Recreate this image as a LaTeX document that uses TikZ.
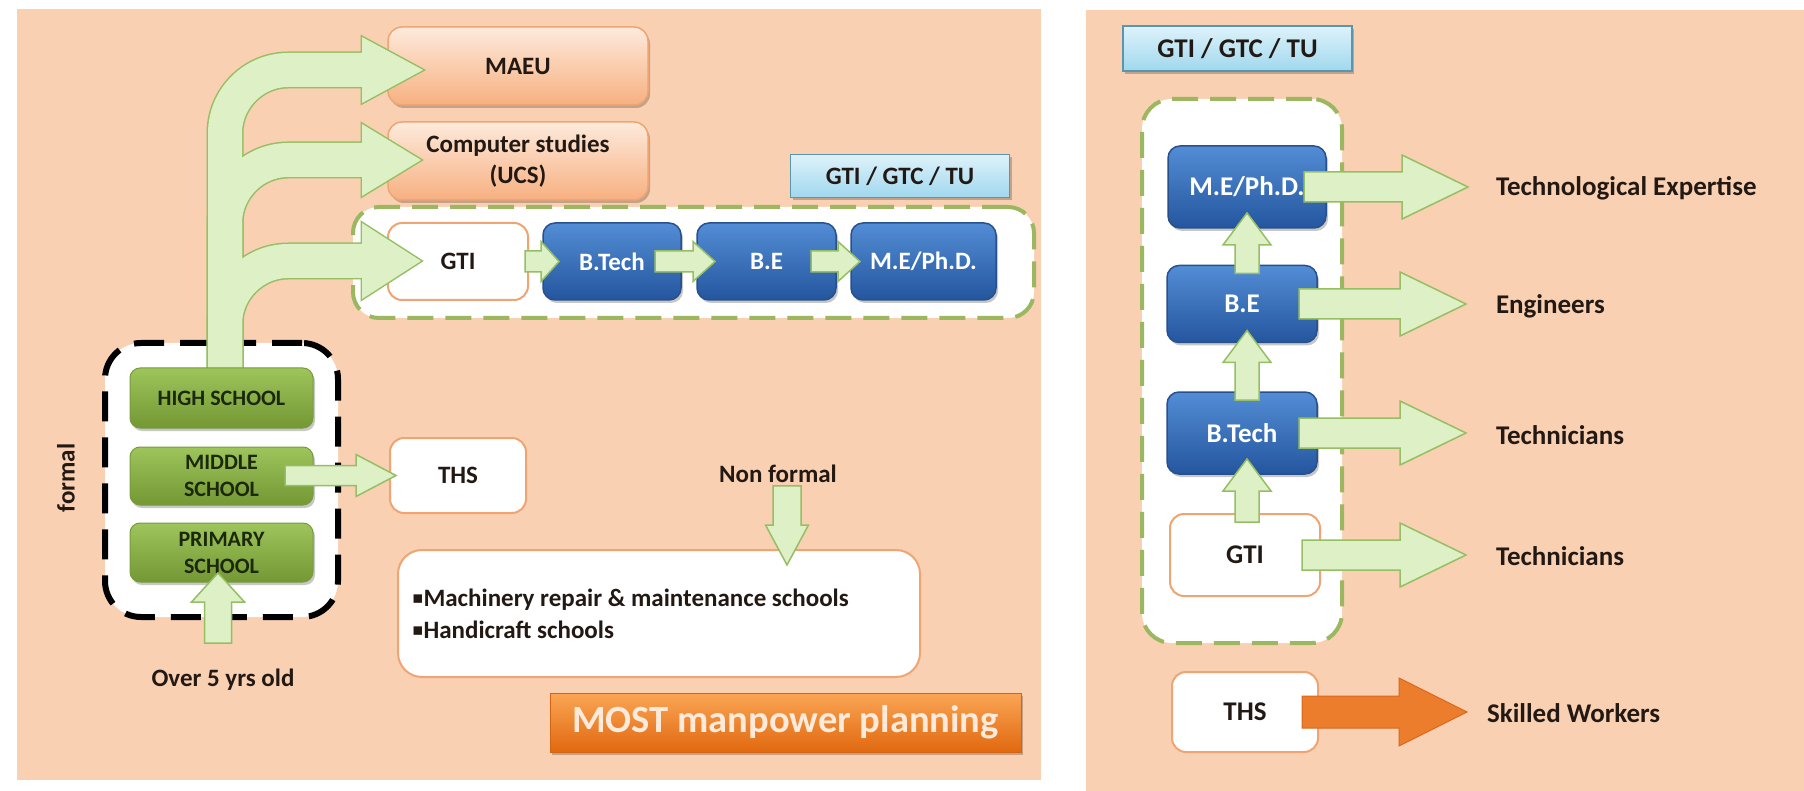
\documentclass[tikz,border=0pt]{standalone}
\usepackage{fontspec}
\setmainfont{Carlito}
\newfontfamily\dejavu{DejaVu Sans}
\usetikzlibrary{calc,shadows}
\definecolor{peach}{RGB}{250,208,178}
\definecolor{ink}{RGB}{35,25,20}
\definecolor{ortop}{RGB}{253,234,220}
\definecolor{orbot}{RGB}{247,176,128}
\definecolor{orline}{RGB}{238,165,115}
\definecolor{bluetop}{RGB}{83,141,213}
\definecolor{bluebot}{RGB}{36,86,158}
\definecolor{blueline}{RGB}{40,80,140}
\definecolor{greentop}{RGB}{158,196,92}
\definecolor{greenbot}{RGB}{115,152,52}
\definecolor{greenline}{RGB}{120,155,60}
\definecolor{greentext}{RGB}{28,40,10}
\definecolor{cyantop}{RGB}{222,242,250}
\definecolor{cyanbot}{RGB}{160,216,238}
\definecolor{cyanline}{RGB}{90,150,175}
\definecolor{gdashc}{RGB}{155,183,95}
\definecolor{gline}{RGB}{150,190,100}
\definecolor{gfill}{RGB}{222,240,198}
\definecolor{mosttop}{RGB}{250,165,85}
\definecolor{mostbot}{RGB}{225,105,15}
\definecolor{mostline}{RGB}{210,100,20}
\definecolor{mosttext}{RGB}{253,234,218}
\definecolor{ofill}{RGB}{236,125,45}
\definecolor{oline}{RGB}{215,105,30}

\newcommand\rarr[6]{\path[#1] let \p1=#2, \p2=#3 in ({\x1},{\y2+#4}) -- ({\x2-#6},{\y2+#4}) -- ({\x2-#6},{\y2+#5}) -- (\x2,\y2) -- ({\x2-#6},{\y2-#5}) -- ({\x2-#6},{\y2-#4}) -- ({\x1},{\y2-#4}) -- cycle;}
\newcommand\uarr[6]{\path[#1] let \p1=#2, \p2=#3 in ({\x2-#4},\y1) -- ({\x2-#4},{\y2-#6}) -- ({\x2-#5},{\y2-#6}) -- (\x2,\y2) -- ({\x2+#5},{\y2-#6}) -- ({\x2+#4},{\y2-#6}) -- ({\x2+#4},\y1) -- cycle;}
\newcommand\darr[6]{\path[#1] let \p1=#2, \p2=#3 in ({\x2-#4},\y1) -- ({\x2-#4},{\y2+#6}) -- ({\x2-#5},{\y2+#6}) -- (\x2,\y2) -- ({\x2+#5},{\y2+#6}) -- ({\x2+#4},{\y2+#6}) -- ({\x2+#4},\y1) -- cycle;}
\newcommand\blt{{\dejavu\fontsize{17}{32}\selectfont\raisebox{3pt}{▪}}}

\tikzset{
  shad/.style={drop shadow={shadow xshift=2pt, shadow yshift=-3pt, opacity=0.22, fill=black}},
  txt/.style={font=\fontsize{25}{31}\selectfont\bfseries, text=ink, align=center},
  rfont/.style={font=\fontsize{27}{32}\selectfont\bfseries},
  rlbl/.style={font=\fontsize{27}{32}\selectfont\bfseries, text=ink, anchor=west},
  orbox/.style={txt, rectangle, rounded corners=14, draw=orline, line width=1.5, top color=ortop, bottom color=orbot, shad},
  bluebox/.style={txt, rectangle, rounded corners=12, draw=blueline, line width=1.5, top color=bluetop, bottom color=bluebot, text=white, shad},
  greenbox/.style={rectangle, rounded corners=10, draw=greenline, line width=1, top color=greentop, bottom color=greenbot, font=\fontsize{22}{27}\selectfont\bfseries, text=greentext, align=center, shad},
  whitebox/.style={txt, rectangle, rounded corners=14, draw=orline, line width=2, fill=white},
  cyanbox/.style={txt, rectangle, draw=cyanline, line width=1.5, top color=cyantop, bottom color=cyanbot, shad},
  gdash/.style={rectangle, draw=gdashc, line width=4, dash pattern=on 26pt off 12pt, fill=white, rounded corners=26},
  kdash/.style={rectangle, draw=black, line width=6, dash pattern=on 30pt off 16pt, fill=white, rounded corners=36},
  garrow/.style={draw=gline, line width=1.5, fill=gfill},
  oarrow/.style={draw=oline, line width=1, fill=ofill},
  mostbox/.style={rectangle, draw=mostline, line width=1, top color=mosttop, bottom color=mostbot, text=mosttext, font=\fontsize{38.5}{44}\selectfont\bfseries, shad}
}

\begin{document}
\begin{tikzpicture}[x=1pt,y=-1pt, every node/.style={inner sep=0pt, outer sep=0pt}]
\useasboundingbox (0,0) rectangle (1804,791);
\fill[white] (0,0) rectangle (1804,791);
\fill[peach] (17,9) rectangle (1041,780);
\fill[peach] (1086,10) rectangle (1804,791);

% ---------------- left panel ----------------
\node[orbox, minimum width=260, minimum height=78] (maeu) at (518,66) {MAEU};
\node[orbox, minimum width=260, minimum height=78] (cs) at (518,161) {Computer studies\\(UCS)};
\node[cyanbox, minimum width=219, minimum height=43] (gtcl) at (900,176) {GTI / GTC / TU};
\node[gdash, minimum width=681, minimum height=111] (gcl) at (693.5,262.5) {};
\node[whitebox, minimum width=140, minimum height=77] (gtil) at (458,261.5) {GTI};
\node[bluebox, minimum width=138, minimum height=77] (btechl) at (612,261.5) {B.Tech};
\node[bluebox, minimum width=139, minimum height=77] (bel) at (766.5,261.5) {B.E};
\node[bluebox, minimum width=145, minimum height=77] (mel) at (923.5,261.5) {M.E/Ph.D.};
\rarr{garrow}{($(gtil.east)+(-3,0)$)}{($(btechl.west)+(16,0)$)}{10.5pt}{20pt}{18pt}
\rarr{garrow}{($(btechl.east)+(-26,0)$)}{($(bel.west)+(18,0)$)}{10.5pt}{20pt}{22pt}
\rarr{garrow}{($(bel.east)+(-25,0)$)}{($(mel.west)+(9,0)$)}{10.5pt}{20pt}{22pt}

\node[kdash, minimum width=233, minimum height=274] (kc) at (221.5,480) {};

% branching arrow from high school
\foreach \t/\m/\b/\h/\p in {53/70/87/33/423, 143/160/177/36/421, 244/261/278/38/421}
  \draw[gline, line width=3] (208,370) -- (208,{\t+80}) .. controls (208,{\t+36}) and (244,\t) .. (288,\t) -- (362,\t) -- (362,{\m-\h}) -- (\p,\m) -- (362,{\m+\h}) -- (362,\b) -- (288,\b) .. controls (263,\b) and (242,{\b+21}) .. (242,{\b+46}) -- (242,370) -- cycle;
\foreach \t/\m/\b/\h/\p in {53/70/87/33/423, 143/160/177/36/421, 244/261/278/38/421}
  \fill[gfill] (208,370) -- (208,{\t+80}) .. controls (208,{\t+36}) and (244,\t) .. (288,\t) -- (362,\t) -- (362,{\m-\h}) -- (\p,\m) -- (362,{\m+\h}) -- (362,\b) -- (288,\b) .. controls (263,\b) and (242,{\b+21}) .. (242,{\b+46}) -- (242,370) -- cycle;

\node[greenbox, minimum width=183, minimum height=60] (hs) at (221.5,398) {HIGH SCHOOL};
\node[greenbox, minimum width=183, minimum height=58] (ms) at (221.5,476) {MIDDLE\\SCHOOL};
\node[greenbox, minimum width=183, minimum height=59] (ps) at (221.5,552.5) {PRIMARY\\SCHOOL};
\node[txt] (age) at (223,680) {Over 5 yrs old};
\uarr{garrow}{($(kc.south)+(-3.5,26)$)}{($(ps.south)+(-3.5,-9)$)}{13.5pt}{26.5pt}{29pt}
\node[txt, rotate=90] (formal) at (66,478) {formal};

\node[whitebox, minimum width=136, minimum height=75] (thsl) at (458,475.5) {THS};
\rarr{garrow}{($(ms.east)+(-28,0)$)}{($(thsl.west)+(6,0)$)}{10pt}{21pt}{40pt}

\node[txt] (nfl) at (778,474) {Non formal};
\node[whitebox, rounded corners=24, minimum width=522, minimum height=127] (nfb) at (659,613.5) {};
\node[font=\fontsize{25}{32}\selectfont\bfseries, text=ink, align=left, anchor=west] (nft) at (412,614)
  {\blt Machinery repair \& maintenance schools\\\blt Handicraft schools};
\darr{garrow}{($(nfl.south)+(9,3)$)}{($(nfb.north)+(128,15)$)}{14pt}{21.5pt}{40pt}

\node[mostbox, minimum width=471, minimum height=59] (most) at (785.5,722.5) {MOST manpower planning};

% ---------------- right panel ----------------
\node[cyanbox, rfont, minimum width=229, minimum height=45] (gtcr) at (1237.5,48.5) {GTI / GTC / TU};
\node[gdash, rounded corners=30, minimum width=200, minimum height=544] (gcr) at (1242,371) {};
\node[bluebox, rfont, minimum width=158, minimum height=82] (mer) at (1247,187) {M.E/Ph.D.};
\node[bluebox, rfont, minimum width=150, minimum height=77] (ber) at (1242,304) {B.E};
\node[bluebox, rfont, minimum width=150, minimum height=82] (btechr) at (1242,433) {B.Tech};
\node[whitebox, rfont, minimum width=150, minimum height=82] (gtir) at (1245,555) {GTI};
\node[whitebox, rfont, minimum width=146, minimum height=80] (thsr) at (1245,712) {THS};

\node[rlbl] (te) at (1496,188) {Technological Expertise};
\node[rlbl] (eng) at (1496,306) {Engineers};
\node[rlbl] (tc1) at (1496,435) {Technicians};
\node[rlbl] (tc2) at (1496,556) {Technicians};
\node[rlbl] (sw) at (1487,713) {Skilled Workers};

\uarr{garrow}{($(ber.north)+(5,8)$)}{($(mer.south)+(0,-15)$)}{12pt}{24pt}{32pt}
\uarr{garrow}{($(btechr.north)+(5,8)$)}{($(ber.south)+(5,-12)$)}{12pt}{24pt}{32pt}
\uarr{garrow}{($(gtir.north)+(3,8)$)}{($(btechr.south)+(5,-15)$)}{12pt}{24pt}{32pt}

\rarr{garrow}{($(mer.east)+(-22,0)$)}{($(mer.east -| te.west)+(-28,0)$)}{15pt}{32pt}{66pt}
\rarr{garrow}{($(ber.east)+(-18,0)$)}{($(ber.east -| eng.west)+(-30,0)$)}{15pt}{32pt}{66pt}
\rarr{garrow}{($(btechr.east)+(-18,0)$)}{($(btechr.east -| tc1.west)+(-30,0)$)}{15pt}{32pt}{66pt}
\rarr{garrow}{($(gtir.east)+(-18,0)$)}{($(gtir.east -| tc2.west)+(-30,0)$)}{15pt}{32pt}{66pt}
\rarr{oarrow}{($(thsr.east)+(-16,0)$)}{($(thsr.east -| sw.west)+(-20,0)$)}{16pt}{34pt}{68pt}
\end{tikzpicture}
\end{document}
